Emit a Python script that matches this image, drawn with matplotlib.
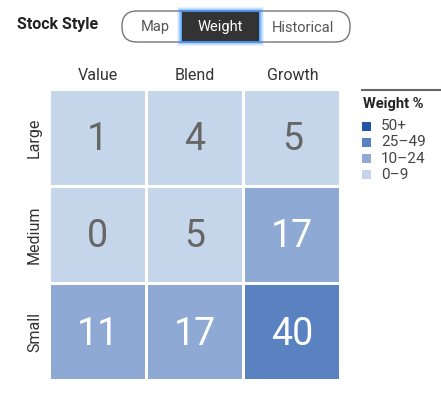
import matplotlib
matplotlib.use("Agg")
import matplotlib.pyplot as plt
from matplotlib.patches import Rectangle, FancyBboxPatch
import numpy as np

cols = ["Value", "Blend", "Growth"]
rows = ["Large", "Medium", "Small"]
weights = [[1, 4, 5],
           [0, 5, 17],
           [11, 17, 40]]
legend_labels = ["50+", "25\u201349", "10\u201324", "0\u20139"]
bucket_colors = ["#2255a8", "#5a82c1", "#8eaad4", "#c6d6ea"]
buttons = ["Map", "Weight", "Historical"]

FONT = ["Roboto", "DejaVu Sans"]
plt.rcParams['font.family'] = FONT

W, H = 441, 396
fig = plt.figure(figsize=(W/100, H/100), dpi=100)
bg = fig.add_axes([0, 0, 1, 1])
bg.set_xlim(0, W); bg.set_ylim(H, 0); bg.axis("off")

def bucket(v):
    if v >= 50: return 0
    if v >= 25: return 1
    if v >= 10: return 2
    return 3

# header
bg.text(17, 25, "Stock Style", fontsize=11.5, fontweight="bold", color="#222222",
        va="center", ha="left")
bx0, bx1, by0, by1 = 122, 350, 11, 42
pill = FancyBboxPatch((bx0, by0), bx1 - bx0, by1 - by0,
                      boxstyle="round,pad=0,rounding_size=15",
                      fc="white", ec="#777777", lw=1.0)
bg.add_patch(pill)
seg = [122, 182, 259, 350]
# glow
for k, a in zip([5, 4, 3, 2, 1], [0.10, 0.15, 0.22, 0.3, 0.45]):
    bg.add_patch(Rectangle((seg[1] - k, by0 - k + 1), seg[2] - seg[1] + 2*k, by1 - by0 + 2*k - 2,
                           fc="#2a8cff", ec="none", alpha=a))
bg.add_patch(Rectangle((seg[1], by0 + 1), seg[2] - seg[1], by1 - by0 - 2, fc="#333333", ec="none"))
for i, b in enumerate(buttons):
    cx = (seg[i] + seg[i+1]) / 2
    if i == 0: cx += 3
    if i == 2: cx -= 2
    bg.text(cx, 27.5, b, fontsize=10.5, color="white" if i == 1 else "#555555",
            ha="center", va="center")

# heatmap axes
gl, gr, gt, gb = 49, 341, 89, 381
ax = fig.add_axes([gl/W, 1 - gb/H, (gr-gl)/W, (gb-gt)/H])
ax.set_xlim(0, 3); ax.set_ylim(3, 0); ax.axis("off")
gap = 0.035
for r in range(3):
    for c in range(3):
        v = weights[r][c]
        b = bucket(v)
        ax.add_patch(Rectangle((c + gap/2, r + gap/2), 1 - gap, 1 - gap,
                               fc=bucket_colors[b], ec="none"))
        ax.text(c + 0.5, r + 0.52, str(v), fontsize=27,
                ha="center", va="center",
                color="#666666" if b == 3 else "white")
for c, name in enumerate(cols):
    ax.text(c + 0.5, -0.14, name, fontsize=11.5, ha="center", va="center", color="#333333")
for r, name in enumerate(rows):
    ax.text(-0.15, r + 0.5, name, fontsize=11.5, ha="center", va="center", rotation=90,
            color="#333333")

# legend
bg.plot([362, 440], [90, 90], color="#666666", lw=1.5)
bg.text(363, 104, "Weight %", fontsize=10.5, fontweight="bold", color="#222222",
        ha="left", va="center")
for i, (lab, colr) in enumerate(zip(legend_labels, bucket_colors)):
    y = 126 + i * 16.3
    bg.add_patch(Rectangle((362, y - 4.5), 9, 9, fc=colr, ec="none"))
    bg.text(381, y, lab, fontsize=11, color="#444444", ha="left", va="center")

fig.savefig("out.png", dpi=100)
